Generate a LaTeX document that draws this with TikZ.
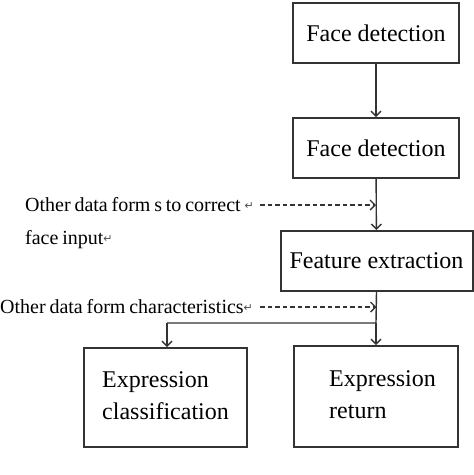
\documentclass[tikz,border=0pt]{standalone}
\usepackage{fontspec}
\setmainfont{Liberation Serif}
\newfontfamily\symfont{DejaVu Sans}
\usetikzlibrary{arrows.meta}
\usetikzlibrary{positioning}

\newcommand{\sidefont}{\fontsize{20}{24}\selectfont\spaceskip=3.8pt\relax}
\newcommand{\retmark}{{\symfont\fontsize{11}{11}\selectfont\raisebox{2pt}{\textcolor{black!70}{↵}}}}

\tikzset{
    stage/.style={draw=black!80, line width=2pt, fill=white, inner sep=0pt,
        font=\fontsize{24}{32}\selectfont},
    boxtext/.style={inner sep=0pt, align=left, font=\fontsize{24}{32}\selectfont},
    sidetext/.style={inner sep=0pt, anchor=west, font=\sidefont},
    flow/.style={draw=black!80, line width=1.4pt, -{Straight Barb[length=5pt,width=10pt]}},
    extra/.style={flow, dashed, dash pattern=on 4.5pt off 3pt}
}

\begin{document}
\begin{tikzpicture}[x=1pt, y=-1pt]
        \useasboundingbox (0,0) rectangle (474,475);

        \node[stage, minimum width=166pt, minimum height=60pt] (detA) at (376,33) {Face detection};
        \node[stage, minimum width=166pt, minimum height=60pt] (detB) at (376,148) {Face detection};
        \node[stage, minimum width=192pt, minimum height=60pt] (feat) at (376.5,261) {Feature extraction};
        \node[stage, minimum width=163pt, minimum height=99pt] (cls) at (165.5,397.5) {};
        \node[stage, minimum width=164pt, minimum height=101pt] (ret) at (376,396.5) {};

        \node[boxtext, right=19pt of cls.west, yshift=2pt] (clsText) {Expression\\classification};
        \node[boxtext, right=36pt of ret.west, yshift=2pt] (retText) {Expression\\return};

        \node[sidetext] (inA) at (25,205) {Other data form s to correct \retmark};
        \node[sidetext] (inB) at (25,240) {face input\retmark};
        \node[sidetext] (inC) at (0,307) {Other data form characteristics\retmark};

        \coordinate (srcA) at (260,205);
        \coordinate (srcC) at (260,307);
        \coordinate (split) at (376,323);
        \coordinate (turn) at (167,323);

        \draw[flow] (detA) -- (detB);
        \draw[flow] (detB) -- (feat);
        \draw[extra] (srcA) -- (srcA -| detB.south);
        \draw[extra] (srcC) -- (srcC -| feat.south);
        \draw[draw=black!80, line width=1.4pt] (feat.south) -- (split) -- (turn);
        \draw[flow] (split) -- (split |- ret.north);
        \draw[flow] (turn) -- (turn |- cls.north);
    \end{tikzpicture}
\end{document}
